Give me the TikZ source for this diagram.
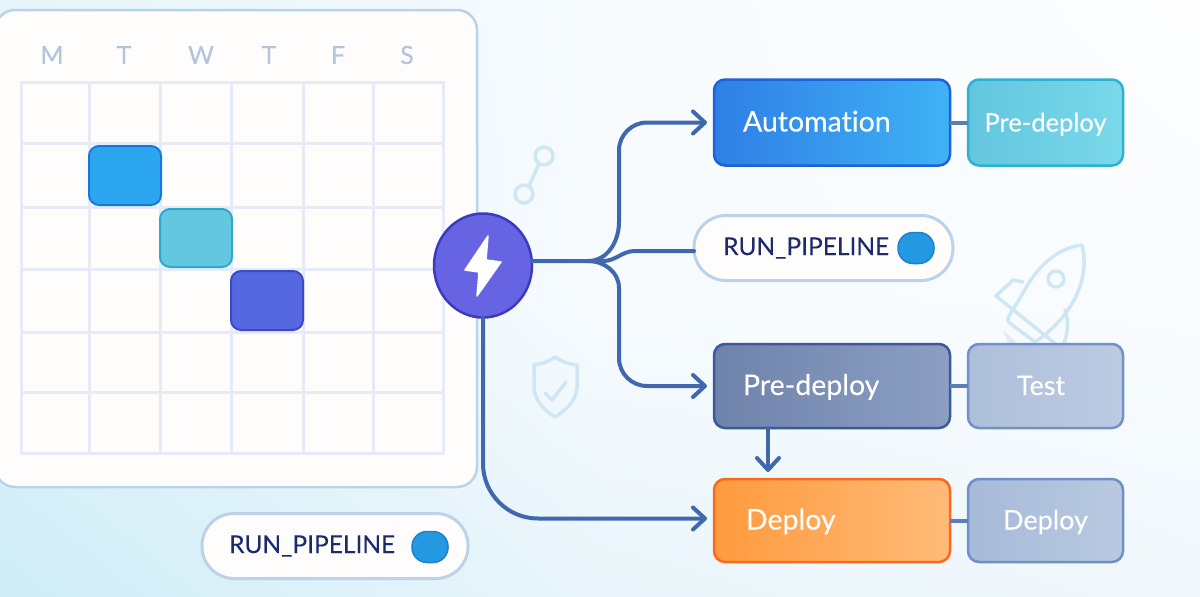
\documentclass[tikz,border=0pt]{standalone}
\usepackage{fontspec}
\setmainfont[Ligatures=NoCommon, FakeBold=0.15]{Lato}
\usetikzlibrary{positioning, shadings, arrows.meta, shapes.geometric}

\definecolor{cardedge}{HTML}{B9D3E9}
\definecolor{cardfill}{HTML}{FFFDFC}
\definecolor{gridline}{HTML}{E6EBF8}
\definecolor{dayink}{HTML}{B3C5DB}
\definecolor{flowblue}{HTML}{4068AF}
\definecolor{linkblue}{HTML}{5C7DB8}
\definecolor{iconblue}{HTML}{CFE7F5}
\definecolor{pilledge}{HTML}{BDD2E8}
\definecolor{pillink}{HTML}{1C2A6E}
\definecolor{dotfill}{HTML}{2399E2}
\definecolor{dotedge}{HTML}{1F80CB}
\definecolor{hubfill}{HTML}{6664E2}
\definecolor{hubedge}{HTML}{3C3ABF}
\definecolor{bgA}{HTML}{E6F5FB}
\definecolor{bgB}{HTML}{F7FBFE}
\definecolor{bgC}{HTML}{FDFDFE}
\definecolor{bgD}{HTML}{DFF2FA}
\definecolor{bgE}{HTML}{F7FBFE}
\definecolor{bgF}{HTML}{F9FCFE}
\definecolor{bgG}{HTML}{CFEDF7}
\definecolor{bgH}{HTML}{E9F5FB}
\definecolor{bgI}{HTML}{F1F8FC}
\definecolor{slotAe}{HTML}{1478DD}
\definecolor{slotAf}{HTML}{2DA6F0}
\definecolor{slotBe}{HTML}{2FA8CF}
\definecolor{slotBf}{HTML}{63C8DF}
\definecolor{slotCe}{HTML}{3A48CC}
\definecolor{slotCf}{HTML}{5568E0}
\definecolor{autoe}{HTML}{1E62D8}
\definecolor{autol}{HTML}{2F7FE6}
\definecolor{autor}{HTML}{3FB2F5}
\definecolor{gatee}{HTML}{2FB2D2}
\definecolor{gatel}{HTML}{62C6DE}
\definecolor{gater}{HTML}{7AD9EA}
\definecolor{stagee}{HTML}{3A5A9C}
\definecolor{stagel}{HTML}{6F82AA}
\definecolor{stager}{HTML}{8C9FC3}
\definecolor{teste}{HTML}{7092C8}
\definecolor{testl}{HTML}{AEBFDB}
\definecolor{testr}{HTML}{BCCBE2}
\definecolor{deploye}{HTML}{FB6A1C}
\definecolor{deployl}{HTML}{FF9A3E}
\definecolor{deployr}{HTML}{FFBB78}
\definecolor{shipe}{HTML}{6F90C6}
\definecolor{shipl}{HTML}{A6BAD9}
\definecolor{shipr}{HTML}{B9C9E0}

\tikzset{
  box/.style={draw=#1e, left color=#1l, right color=#1r, line width=2.5pt,
    rounded corners=11pt, outer sep=0pt, text=white},
  mainbox/.style={text width=178pt, inner xsep=29pt, text height=24pt, text depth=6pt,
    align=left, font=\fontsize{28.5}{34}\selectfont},
  sidebox/.style={minimum width=155pt, inner sep=0pt, text height=24pt, text depth=6pt,
    align=center, font=\fontsize{27}{32}\selectfont},
  slot/.style={draw=slot#1e, fill=slot#1f, line width=2pt, rounded corners=10pt},
  flow/.style={draw=flowblue, line width=4pt, line cap=round},
  tip/.style={-{Straight Barb[length=12pt, width=22pt, round]}, shorten >=7pt},
  link/.style={draw=linkblue, line width=4pt},
  pill/.style={draw=pilledge, fill=cardfill, line width=3pt, rounded corners=32pt,
    minimum height=65pt, outer sep=0pt},
  pilltext/.style={text=pillink, inner sep=0pt, font=\fontsize{24.5}{30}\selectfont},
  pilldot/.style={draw=dotedge, fill=dotfill, line width=1.5pt, rounded corners=15pt,
    minimum width=36pt, minimum height=31pt, inner sep=0pt},
  icon/.style={draw=iconblue, line width=3.5pt, line join=round, line cap=round}
}

\begin{document}
\begin{tikzpicture}[x=1pt, y=-1pt]

\useasboundingbox (0,0) rectangle (1200,597);
\clip (0,0) rectangle (1200,597);

% backdrop
\foreach \x/\y/\w/\h/\a/\b/\c/\d in
  {0/0/600/300/bgA/bgB/bgD/bgE, 600/0/600/300/bgB/bgC/bgE/bgF,
   0/300/600/297/bgD/bgE/bgG/bgH, 600/300/600/297/bgE/bgF/bgH/bgI}
\shade [upper left=\a, upper right=\b, lower left=\c, lower right=\d]
  (\x,\y) rectangle +(\w,\h);

% calendar
\draw [draw=cardedge, fill=cardfill, line width=2.5pt, rounded corners=20pt]
  (-5,10) rectangle (477,487);
\foreach \x in {21, 89, 160.5, 231.5, 303, 373.5, 443}
  \draw [gridline, line width=3pt] (\x,81) -- (\x,454);
\foreach \y in {82, 143, 207, 269, 332, 392, 453}
  \draw [gridline, line width=3pt] (20,\y) -- (444,\y);
\foreach \x/\d/\n in {52/M/mon, 124/T/tue, 201/W/wed, 269/T/thu, 338/F/fri, 407/S/sat}
  \node (\n) [text=dayink, inner sep=0pt, font=\fontsize{25}{30}\selectfont] at (\x,55) {\d};

\draw [slot=A] (89,146) rectangle (161,205);
\draw [slot=B] (160,209) rectangle (232,267);
\draw [slot=C] (231,271) rectangle (303,330);

% faint icons
\draw [icon] (544,156) circle (9) (524,194) circle (9) (539,164) -- (529,186);
\draw [icon] (555,357) .. controls (548,362) and (541,364) .. (534,365) -- (534,388)
  .. controls (535,401) and (545,411) .. (555,417)
  .. controls (565,411) and (576,401) .. (577,388) -- (577,365)
  .. controls (569,364) and (562,362) .. (555,357) -- cycle;
\draw [icon] (545,393) -- (552,400) -- (566,382);
\draw [icon] (1082,245) .. controls (1055,248) and (1035,270) .. (1023,293)
  -- (1009,316) .. controls (1007,320) and (1008,322) .. (1011,324) -- (1035,342)
  .. controls (1065,322) and (1092,285) .. (1082,245) -- cycle;
\draw [icon] (1056,279) circle (8);
\draw [icon] (1023,282) -- (1013,280) -- (996,296) -- (1057,345);
\draw [icon] (1065,310) .. controls (1069,320) and (1068,335) .. (1063,345);
\fill [iconblue!70] (1003,330) -- (1017,343) -- (1008,343) -- cycle;

% steps
\node (auto) [box=auto, mainbox, minimum height=86pt] at (832,122.5) {Automation};
\node (gate) [box=gate, sidebox, minimum height=86pt, font=\fontsize{25.5}{30}\selectfont,
  right=18pt of auto] {Pre-deploy};
\node (stage) [box=stage, mainbox, minimum height=84pt] at (832,386) {Pre-deploy};
\node (test) [box=test, sidebox, minimum height=84pt, right=18pt of stage] {Test\hspace*{9pt}};
\node (deploy) [box=deploy, mainbox, minimum height=83pt] at (832,520.5) {\hspace*{3pt}Deploy};
\node (ship) [box=ship, sidebox, minimum height=83pt, right=18pt of deploy] {Deploy};

% pills
\node (pillup) [pill, minimum width=259pt] at (823.5,248) {};
\node (pilluptext) [pilltext, anchor=west] at (723,248) {RUN\_PIPELINE};
\node (pillupdot) [pilldot] at (916,248) {};
\node (pilldown) [pill, minimum width=266pt] at (335,546) {};
\node (pilldowntext) [pilltext, anchor=west] at (229,546) {RUN\_PIPELINE};
\node (pilldowndot) [pilldot] at (430,547) {};

% trigger
\node (hub) [ellipse, draw=hubedge, fill=hubfill, line width=2.5pt, minimum width=98pt,
  minimum height=104pt, inner sep=0pt, outer sep=0pt] at (483,265.5) {};
\fill [white, draw=white, line width=1.5pt, line join=round]
  (488,236) -- (465,270) -- (479,272) -- (477,296) -- (501,262) -- (486,260) -- cycle;

% connectors
\coordinate (fork) at (588,261);
\coordinate (forkup) at (619,222);
\coordinate (forkdown) at (619,288);
\coordinate (forkpill) at (635,251);
\draw [flow, tip] (hub.east |- fork) -- (fork) to [out=0, in=-90] (forkup)
  [rounded corners=28pt] |- (auto.west);
\draw [flow, tip] (fork) to [out=0, in=90] (forkdown)
  [rounded corners=28pt] |- (stage.west);
\draw [flow] (fork) -- (603,261) to [out=0, in=180] (forkpill) -- ([yshift=-3pt]pillup.west);
\draw [flow, tip, rounded corners=55pt] (hub.south) |- ([yshift=2pt]deploy.west);
\draw [flow, tip] ([xshift=-64pt]stage.south) -- ([xshift=-64pt]deploy.north);
\draw [link] (auto.east) -- (gate.west);
\draw [link] (stage.east) -- (test.west);
\draw [link] (deploy.east) -- (ship.west);

\end{tikzpicture}
\end{document}
